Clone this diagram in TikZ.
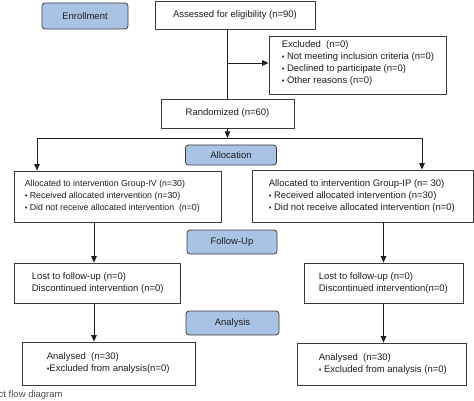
\documentclass[tikz,border=0pt]{standalone}
\usepackage{fontspec}
\setmainfont{Liberation Sans}
\usetikzlibrary{arrows.meta}
\definecolor{hdrfill}{HTML}{A9C3E5}
\definecolor{edge}{HTML}{3A3A3A}
\definecolor{ink}{HTML}{1E1E1E}
\newcommand{\bl}{{\fontsize{7.5}{7.5}\selectfont\raisebox{0.1ex}{•}}}
\begin{document}
\begin{tikzpicture}[x=1pt,y=-1pt,
  font=\fontsize{9.5}{12}\selectfont, text=ink,
  box/.style={draw=edge, line width=0.8pt, fill=white, inner sep=0pt, align=center, anchor=center},
  txt/.style={inner sep=0pt, align=left, anchor=west},
  hdr/.style={draw=edge, line width=0.8pt, fill=hdrfill, rounded corners=3pt, inner sep=0pt, align=center},
  conn/.style={draw=ink, line width=0.9pt},
  arr/.style={conn, -{Triangle[length=6.5pt,width=5.5pt]}}]
\useasboundingbox (0,0) rectangle (474,401);
% header boxes
\node[hdr, minimum width=86pt, minimum height=26pt] (enr) at (85,16) {Enrollment};
\node[hdr, minimum width=91pt, minimum height=20pt] (alloc) at (231,155) {Allocation};
\node[hdr, minimum width=90pt, minimum height=24pt] (fu) at (232,242) {Follow-Up};
\node[hdr, minimum width=93pt, minimum height=24pt] (ana) at (232.5,323) {Analysis};
% boxes
\node[box, minimum width=160pt, minimum height=28pt] (assess) at (235,15) {Assessed for eligibility (n=90)};
\node[box, minimum width=177pt, minimum height=58pt] (excl) at (357.5,65) {};
\node[txt] (exclt) at ([xshift=13pt,yshift=1.5pt]excl.west)
  {Excluded\ \ (n=0)\\ \bl\ Not meeting inclusion criteria (n=0)\\ \bl\ Declined to participate (n=0)\\ \bl\ Other reasons (n=0)};
\node[box, minimum width=133pt, minimum height=29pt] (rand) at (227.5,113.5) {Randomized (n=60)};
\node[box, minimum width=207pt, minimum height=51pt] (giv) at (117.5,196.5) {};
\node[txt, font=\fontsize{8.8}{12}\selectfont] (givt) at ([xshift=11pt]giv.west)
  {Allocated to intervention Group-IV (n=30)\\ \bl\ Received allocated intervention (n=30)\\ \bl\ Did not receive allocated intervention\ \ (n=0)};
\node[box, minimum width=221pt, minimum height=52pt] (gip) at (362.5,196) {};
\node[txt] (gipt) at ([xshift=17pt]gip.west)
  {Allocated to intervention Group-IP (n= 30)\\ \bl\ Received allocated intervention (n=30)\\ \bl\ Did not receive allocated intervention (n=0)};
\node[box, minimum width=166pt, minimum height=40pt] (lostl) at (97,283) {};
\node[txt] (lostlt) at ([xshift=18pt]lostl.west)
  {Lost to follow-up (n=0)\\ Discontinued intervention (n=0)};
\node[box, minimum width=159pt, minimum height=40pt] (lostr) at (383.5,283) {};
\node[txt] (lostrt) at ([xshift=15pt]lostr.west)
  {Lost to follow-up (n=0)\\ Discontinued intervention(n=0)};
\node[box, minimum width=173pt, minimum height=43pt] (anl) at (108.5,363.5) {};
\node[txt] (anlt) at ([xshift=25pt]anl.west)
  {Analysed\ \ (n=30)\\ \bl Excluded from analysis(n=0)};
\node[box, minimum width=169pt, minimum height=42pt] (anr) at (381.5,364) {};
\node[txt] (anrt) at ([xshift=22pt]anr.west)
  {Analysed\ \ (n=30)\\ \bl\ Excluded from analysis (n=0)};
% caption
\node[anchor=west, inner sep=0pt, text=ink!80] (cap) at (-1.5,395) {ct flow diagram};
% connectors
\coordinate (br) at (227.5,63);
\coordinate (split) at (227.5,138);
\coordinate (lt) at (37,138);
\coordinate (rt) at (422,138);
\coordinate (cl) at (94,0);
\draw[conn] (assess.south -| rand.north) -- (rand.north);
\draw[arr] (br) -- (br -| excl.west);
\draw[arr] (rand.south) -- (split);
\draw[conn] (lt) -- (rt);
\draw[arr] (lt) -- (lt |- giv.north);
\draw[arr] (rt) -- (rt |- gip.north);
\draw[arr] (giv.south -| cl) -- (lostl.north -| cl);
\draw[arr] (gip.south -| lostr.north) -- (lostr.north);
\draw[arr] (lostl.south -| cl) -- (anl.north -| cl);
\draw[arr] (lostr.south) -- (anr.north -| lostr.south);
\end{tikzpicture}
\end{document}
